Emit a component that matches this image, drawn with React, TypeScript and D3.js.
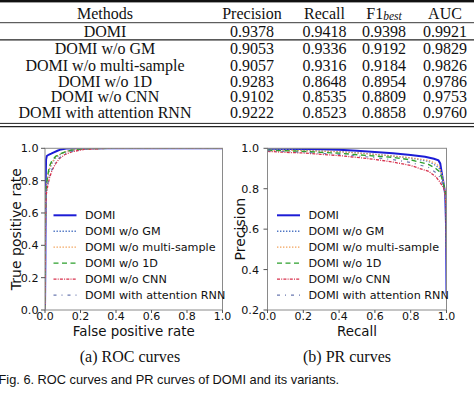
import React from 'react';
import * as d3 from 'd3';

// table values
const methods = ['DOMI', 'DOMI w/o GM', 'DOMI w/o multi-sample', 'DOMI w/o 1D', 'DOMI w/o CNN', 'DOMI with attention RNN'];
const precision = ['0.9378', '0.9053', '0.9057', '0.9283', '0.9102', '0.9222'];
const recall = ['0.9418', '0.9336', '0.9316', '0.8648', '0.8535', '0.8523'];
const f1best = ['0.9398', '0.9192', '0.9184', '0.8954', '0.8809', '0.8858'];
const auc = ['0.9921', '0.9829', '0.9826', '0.9786', '0.9753', '0.9760'];

// ROC curves: [false positive rate, true positive rate]
const rocDomi: [number, number][] = [[0, 0], [0.002, 0.3], [0.004, 0.8], [0.006, 0.93], [0.01, 0.952], [0.02, 0.96], [0.035, 0.967], [0.05, 0.975], [0.07, 0.985], [0.09, 0.993], [0.12, 0.998], [0.2, 1], [1, 1]];
const rocGm: [number, number][] = [[0, 0], [0.002, 0.5], [0.004, 0.69], [0.008, 0.75], [0.015, 0.81], [0.025, 0.87], [0.04, 0.91], [0.06, 0.94], [0.08, 0.958], [0.11, 0.976], [0.15, 0.99], [0.22, 0.997], [0.35, 1], [1, 1]];
const rocMulti: [number, number][] = [[0, 0], [0.002, 0.5], [0.004, 0.7], [0.008, 0.76], [0.015, 0.82], [0.025, 0.875], [0.04, 0.915], [0.06, 0.943], [0.08, 0.96], [0.11, 0.977], [0.15, 0.99], [0.22, 0.997], [0.35, 1], [1, 1]];
const rocOneD: [number, number][] = [[0, 0], [0.002, 0.5], [0.004, 0.7], [0.008, 0.77], [0.015, 0.83], [0.025, 0.89], [0.04, 0.925], [0.06, 0.95], [0.08, 0.963], [0.11, 0.976], [0.15, 0.988], [0.22, 0.996], [0.35, 1], [1, 1]];
const rocCnn: [number, number][] = [[0, 0], [0.002, 0.45], [0.004, 0.65], [0.008, 0.72], [0.015, 0.765], [0.025, 0.815], [0.04, 0.865], [0.06, 0.905], [0.08, 0.935], [0.11, 0.96], [0.15, 0.978], [0.22, 0.993], [0.35, 1], [1, 1]];
const rocAttn: [number, number][] = [[0, 0], [0.002, 0.45], [0.004, 0.66], [0.008, 0.725], [0.015, 0.775], [0.025, 0.825], [0.04, 0.872], [0.06, 0.912], [0.08, 0.94], [0.11, 0.964], [0.15, 0.981], [0.22, 0.994], [0.35, 1], [1, 1]];

// PR curves: [recall, precision]
const prDomi: [number, number][] = [[0, 0.998], [0.1, 0.997], [0.2, 0.996], [0.3, 0.995], [0.4, 0.993], [0.5, 0.988], [0.6, 0.982], [0.7, 0.975], [0.8, 0.967], [0.88, 0.958], [0.93, 0.948], [0.955, 0.94], [0.965, 0.925], [0.975, 0.87], [0.985, 0.82], [0.993, 0.77], [0.998, 0.6], [1, 0.28]];
const prGm: [number, number][] = [[0, 0.995], [0.1, 0.993], [0.2, 0.99], [0.3, 0.987], [0.4, 0.984], [0.5, 0.978], [0.6, 0.97], [0.7, 0.962], [0.8, 0.952], [0.9, 0.935], [0.94, 0.915], [0.96, 0.9], [0.975, 0.86], [0.99, 0.79], [0.998, 0.7], [1, 0.5]];
const prMulti: [number, number][] = [[0, 0.99], [0.1, 0.99], [0.2, 0.988], [0.3, 0.986], [0.4, 0.983], [0.5, 0.977], [0.6, 0.97], [0.7, 0.962], [0.8, 0.953], [0.9, 0.94], [0.94, 0.925], [0.96, 0.91], [0.975, 0.87], [0.99, 0.8], [0.998, 0.72], [1, 0.5]];
const prOneD: [number, number][] = [[0, 0.99], [0.1, 0.988], [0.2, 0.985], [0.3, 0.98], [0.4, 0.976], [0.5, 0.968], [0.6, 0.962], [0.7, 0.955], [0.8, 0.943], [0.9, 0.92], [0.94, 0.9], [0.96, 0.885], [0.975, 0.85], [0.99, 0.8], [0.998, 0.76], [1, 0.5]];
const prCnn: [number, number][] = [[0, 0.985], [0.1, 0.98], [0.2, 0.977], [0.3, 0.97], [0.4, 0.964], [0.5, 0.955], [0.6, 0.945], [0.7, 0.932], [0.8, 0.915], [0.85, 0.9], [0.9, 0.886], [0.94, 0.86], [0.96, 0.837], [0.98, 0.81], [0.99, 0.79], [0.998, 0.72], [1, 0.45]];
const prAttn: [number, number][] = [[0, 0.988], [0.1, 0.984], [0.2, 0.98], [0.3, 0.975], [0.4, 0.97], [0.5, 0.962], [0.6, 0.954], [0.7, 0.944], [0.8, 0.93], [0.9, 0.905], [0.94, 0.88], [0.96, 0.86], [0.98, 0.82], [0.99, 0.79], [0.998, 0.74], [1, 0.45]];

const unitTicks = [0, 0.2, 0.4, 0.6, 0.8, 1.0];
const prYTicks = [0.2, 0.4, 0.6, 0.8, 1.0];

// line styles, same order as methods
const styles = [
  { color: '#1c1cd6', width: 2, dash: '' },
  { color: '#4f76c4', width: 1.3, dash: '1.4,1.6' },
  { color: '#f2a25a', width: 1.3, dash: '1.4,1.6' },
  { color: '#2ca02c', width: 1.4, dash: '5,3.5' },
  { color: '#d7304c', width: 1.3, dash: '3,1.2,1,1.2' },
  { color: '#6a78b0', width: 1.2, dash: '3,5,1,5' },
];

const sans = 'DejaVu Sans, sans-serif';
const serif = 'Liberation Serif, serif';

const Panel = ({ id, left, right, top, bottom, yDomain, yTicks, series, xLabel, yLabel, yLabelX, tickEnd, legendX }) => {
  const x = d3.scaleLinear().domain([0, 1]).range([left, right]);
  const y = d3.scaleLinear().domain(yDomain).range([bottom, top]);
  const line = d3.line<[number, number]>().x(d => x(d[0])).y(d => y(d[1]));
  const fmt = d3.format('.1f');
  return (
    <g>
      <clipPath id={id}>
        <rect x={left} y={top} width={right - left} height={bottom - top} />
      </clipPath>
      <g clipPath={`url(#${id})`}>
        {series.map((s, i) => (
          <path key={i} d={line(s) || ''} fill="none" stroke={styles[i].color}
            strokeWidth={styles[i].width} strokeDasharray={styles[i].dash} />
        ))}
      </g>
      <rect x={left} y={top} width={right - left} height={bottom - top} fill="none" stroke="#8a8a8a" strokeWidth={1} />
      {unitTicks.map(t => (
        <g key={'x' + t}>
          <line x1={x(t)} x2={x(t)} y1={bottom} y2={bottom + 3} stroke="#555" />
          <text x={x(t)} y={319.5} textAnchor="middle" fontFamily={sans} fontSize={11} fill="#111">{fmt(t)}</text>
        </g>
      ))}
      {yTicks.map(t => (
        <g key={'y' + t}>
          <line x1={left - 4} x2={left} y1={y(t)} y2={y(t)} stroke="#555" />
          <text x={tickEnd} y={y(t)} dy="0.36em" textAnchor="end" fontFamily={sans} fontSize={11.2} fill="#111">{fmt(t)}</text>
        </g>
      ))}
      <text x={(left + right) / 2} y={335.5} textAnchor="middle" fontFamily={sans} fontSize={13.4} fill="#111">{xLabel}</text>
      <text transform={`translate(${yLabelX},${(top + bottom) / 2}) rotate(-90)`} dy="0.36em" textAnchor="middle"
        fontFamily={sans} fontSize={14} fill="#111">{yLabel}</text>
      {methods.map((m, i) => {
        const ly = 215.3 + i * 15.95;
        return (
          <g key={m}>
            <line x1={legendX} x2={legendX + 23} y1={ly} y2={ly} stroke={styles[i].color}
              strokeWidth={styles[i].width} strokeDasharray={styles[i].dash} />
            <text x={legendX + 31.5} y={ly} dy="0.36em" fontFamily={sans} fontSize={11.2} fill="#111">{m}</text>
          </g>
        );
      })}
    </g>
  );
};

const App = () => {
  const colX = [105, 252, 324.5, 384, 445];
  const rowY = [37.1, 54.3, 70.5, 86.5, 102.4, 118.3];
  return (
    <svg width={474} height={395} style={{ position: 'absolute', left: 0, top: 0, background: '#fff' }}>
      <rect x={0} y={0} width={474} height={395} fill="#fff" />
      {/* table */}
      <rect x={0} y={0} width={474} height={2.4} fill="#111" />
      <g fontFamily={serif} fontSize={16} textAnchor="middle" fill="#111">
        <text x={colX[0]} y={19.2}>Methods</text>
        <text x={colX[1]} y={19.2}>Precision</text>
        <text x={colX[2]} y={19.2}>Recall</text>
        <text x={colX[3]} y={19.2}>F1<tspan fontStyle="italic" fontSize={11.5} dy={1.2}>best</tspan></text>
        <text x={colX[4]} y={19.2}>AUC</text>
        {methods.map((m, i) => (
          <g key={m}>
            <text x={colX[0]} y={rowY[i]}>{m}</text>
            <text x={colX[1]} y={rowY[i]}>{precision[i]}</text>
            <text x={colX[2]} y={rowY[i]}>{recall[i]}</text>
            <text x={colX[3]} y={rowY[i]}>{f1best[i]}</text>
            <text x={colX[4]} y={rowY[i]}>{auc[i]}</text>
          </g>
        ))}
      </g>
      <line x1={0} x2={474} y1={22.7} y2={22.7} stroke="#222" strokeWidth={0.9} />
      <line x1={0} x2={474} y1={39.8} y2={39.8} stroke="#222" strokeWidth={1.2} />
      <line x1={0} x2={474} y1={123.4} y2={123.4} stroke="#222" strokeWidth={1} />
      <line x1={0} x2={474} y1={126.6} y2={126.6} stroke="#222" strokeWidth={1.2} />

      <Panel id="roc" left={45} right={222.5} top={148.3} bottom={310} yDomain={[0, 1]} yTicks={unitTicks}
        series={[rocDomi, rocGm, rocMulti, rocOneD, rocCnn, rocAttn]}
        xLabel="False positive rate" yLabel="True positive rate" yLabelX={16} tickEnd={38.5} legendX={53.5} />
      <Panel id="pr" left={267.5} right={446.5} top={148.3} bottom={310} yDomain={[0.2, 1]} yTicks={prYTicks}
        series={[prDomi, prGm, prMulti, prOneD, prCnn, prAttn]}
        xLabel="Recall" yLabel="Precision" yLabelX={240} tickEnd={259} legendX={277} />

      <text x={130} y={361.5} textAnchor="middle" fontFamily={serif} fontSize={16} fill="#111">(a) ROC curves</text>
      <text x={347} y={361.5} textAnchor="middle" fontFamily={serif} fontSize={16} fill="#111">(b) PR curves</text>
      <text x={-1.5} y={383.5} fontFamily="Liberation Sans, Arial, sans-serif" fontSize={12.8} fill="#111">Fig. 6. ROC curves and PR curves of DOMI and its variants.</text>
    </svg>
  );
};

export default App;
